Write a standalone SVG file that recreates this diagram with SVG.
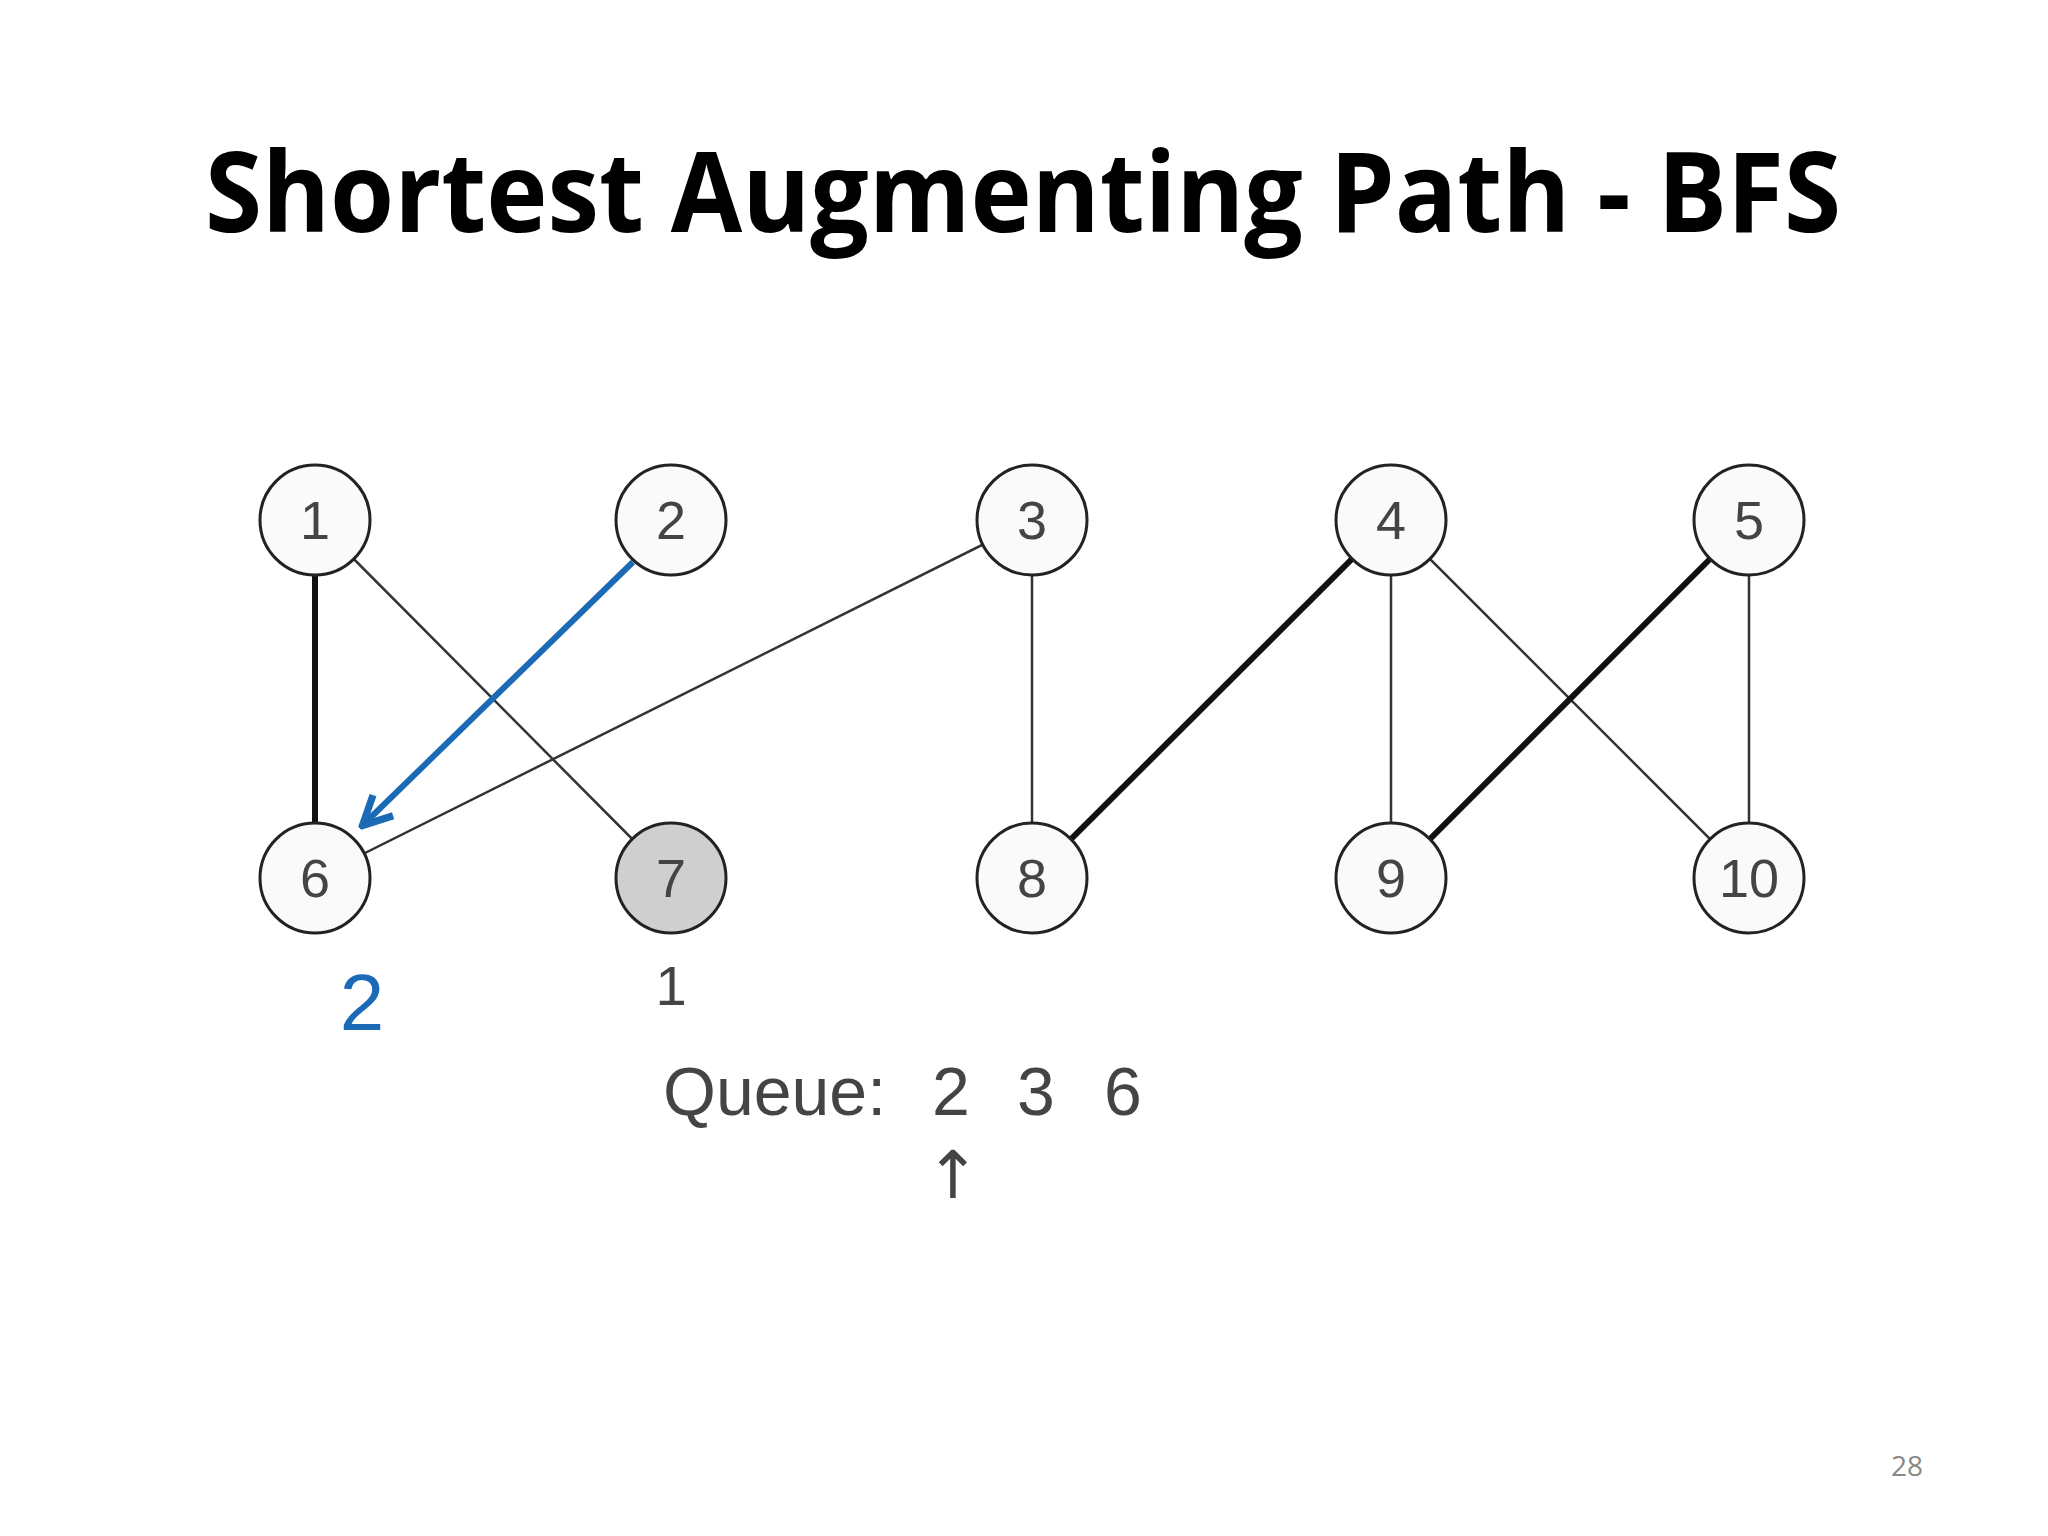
<svg xmlns="http://www.w3.org/2000/svg" width="2048" height="1536" viewBox="0 0 2048 1536">
<defs>
<style>
.n circle{fill:#fafafa;stroke:#222;stroke-width:3}
.n text{font-family:"Liberation Sans",Arial,sans-serif;font-size:54px;fill:#444;text-anchor:middle}
.thin{stroke:#333;stroke-width:2.5}
.thick{stroke:#111;stroke-width:6}
.q{font-family:"Liberation Sans",Arial,sans-serif;font-size:68px;fill:#444}
</style>
<marker id="ah" viewBox="0 0 10 10" refX="8" refY="5" markerWidth="6" markerHeight="6" orient="auto"><path d="M1,1 L9,5 L1,9" fill="none" stroke="#1a6ab5" stroke-width="2"/></marker>
</defs>
<rect width="2048" height="1536" fill="#fff"/>
<text x="1023" y="232" font-family="'Open Sans','Liberation Sans',sans-serif" font-weight="bold" font-size="112" text-anchor="middle" textLength="1636" lengthAdjust="spacingAndGlyphs">Shortest Augmenting Path - BFS</text>
<g id="connectors">
<line class="thick" x1="315" y1="520" x2="315" y2="878"/>
<line class="thin" x1="315" y1="520" x2="671" y2="878"/>
<line class="thin" x1="1032" y1="520" x2="315" y2="878"/>
<line class="thin" x1="1032" y1="520" x2="1032" y2="878"/>
<line class="thick" x1="1391" y1="520" x2="1032" y2="878"/>
<line class="thin" x1="1391" y1="520" x2="1391" y2="878"/>
<line class="thin" x1="1391" y1="520" x2="1749" y2="878"/>
<line class="thick" x1="1749" y1="520" x2="1391" y2="878"/>
<line class="thin" x1="1749" y1="520" x2="1749" y2="878"/>
<line x1="633" y1="562" x2="365" y2="823" stroke="#1a6ab5" stroke-width="6" marker-end="url(#ah)"/>
</g>
<g id="n1" class="n"><circle cx="315" cy="520" r="55"/><text x="315" y="539">1</text></g>
<g id="n2" class="n"><circle cx="671" cy="520" r="55"/><text x="671" y="539">2</text></g>
<g id="n3" class="n"><circle cx="1032" cy="520" r="55"/><text x="1032" y="539">3</text></g>
<g id="n4" class="n"><circle cx="1391" cy="520" r="55"/><text x="1391" y="539">4</text></g>
<g id="n5" class="n"><circle cx="1749" cy="520" r="55"/><text x="1749" y="539">5</text></g>
<g id="n6" class="n"><circle cx="315" cy="878" r="55"/><text x="315" y="897">6</text></g>
<g id="n7" class="n"><circle cx="671" cy="878" r="55" style="fill:#cfcfcf"/><text x="671" y="897">7</text></g>
<g id="n8" class="n"><circle cx="1032" cy="878" r="55"/><text x="1032" y="897">8</text></g>
<g id="n9" class="n"><circle cx="1391" cy="878" r="55"/><text x="1391" y="897">9</text></g>
<g id="n10" class="n"><circle cx="1749" cy="878" r="55"/><text x="1749" y="897">10</text></g>
<text x="362" y="1030" font-family="'Liberation Sans',Arial,sans-serif" font-size="80" fill="#1a6ab5" text-anchor="middle">2</text>
<text x="671" y="1005" font-family="'Liberation Sans',Arial,sans-serif" font-size="56" fill="#444" text-anchor="middle">1</text>
<text class="q" x="663" y="1115">Queue:</text>
<text class="q" x="951" y="1115" text-anchor="middle">2</text>
<text class="q" x="1036" y="1115" text-anchor="middle">3</text>
<text class="q" x="1123" y="1115" text-anchor="middle">6</text>
<text x="953" y="1198" font-family="'DejaVu Sans',sans-serif" font-size="66" fill="#444" text-anchor="middle">↑</text>
<text x="1907" y="1476" font-family="'Open Sans','Liberation Sans',sans-serif" font-size="28" fill="#888" text-anchor="middle">28</text>
</svg>
